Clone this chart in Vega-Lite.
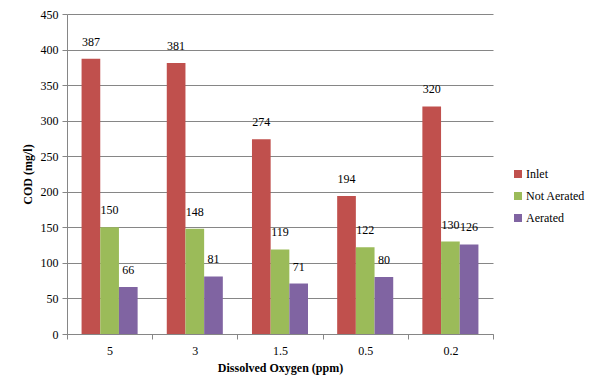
{
  "$schema": "https://vega.github.io/schema/vega-lite/v6.json",
  "autosize": "none",
  "width": 426,
  "height": 320,
  "padding": {"left": 67, "top": 14, "right": 109, "bottom": 58},
  "background": "white",
  "config": {
    "font": "Liberation Serif",
    "view": {"stroke": null},
    "text": {"font": "Liberation Serif", "fontSize": 12, "color": "#000000"},
    "legend": {"labelFont": "Liberation Serif", "titleFont": "Liberation Serif", "labelFontSize": 12, "labelColor": "#000000"},
    "axis": {"labelFont": "Liberation Serif", "titleFont": "Liberation Serif", "labelColor": "#000000", "titleColor": "#000000", "domainColor": "#868686", "tickColor": "#868686", "gridColor": "#868686", "labelFontSize": 12, "titleFontSize": 12}
  },
  "data": {
    "values": [
      {"do": "5", "series": "Inlet", "cod": 387},
      {"do": "5", "series": "Not Aerated", "cod": 150},
      {"do": "5", "series": "Aerated", "cod": 66},
      {"do": "3", "series": "Inlet", "cod": 381},
      {"do": "3", "series": "Not Aerated", "cod": 148},
      {"do": "3", "series": "Aerated", "cod": 81},
      {"do": "1.5", "series": "Inlet", "cod": 274},
      {"do": "1.5", "series": "Not Aerated", "cod": 119},
      {"do": "1.5", "series": "Aerated", "cod": 71},
      {"do": "0.5", "series": "Inlet", "cod": 194},
      {"do": "0.5", "series": "Not Aerated", "cod": 122},
      {"do": "0.5", "series": "Aerated", "cod": 80},
      {"do": "0.2", "series": "Inlet", "cod": 320},
      {"do": "0.2", "series": "Not Aerated", "cod": 130},
      {"do": "0.2", "series": "Aerated", "cod": 126}
    ]
  },
  "encoding": {
    "x": {
      "field": "do", "type": "nominal", "sort": null,
      "scale": {"paddingInner": 0, "paddingOuter": 0},
      "axis": {"title": "Dissolved Oxygen (ppm)", "titleFontWeight": "bold", "titlePadding": 6, "labelAngle": 0, "labelPadding": 6, "tickBand": "extent", "tickSize": 5, "grid": false}
    },
    "xOffset": {"field": "series", "type": "nominal", "sort": ["Inlet", "Not Aerated", "Aerated"], "scale": {"paddingOuter": 0.78, "paddingInner": 0}},
    "y": {
      "field": "cod", "type": "quantitative",
      "scale": {"domain": [0, 450]},
      "axis": {"title": "COD (mg/l)", "titleFontWeight": "bold", "titlePadding": 6, "values": [0, 50, 100, 150, 200, 250, 300, 350, 400, 450], "tickSize": 5, "labelPadding": 4, "grid": true}
    }
  },
  "layer": [
    {
      "mark": {"type": "bar"},
      "encoding": {
        "color": {
          "field": "series", "type": "nominal",
          "sort": ["Inlet", "Not Aerated", "Aerated"],
          "scale": {"domain": ["Inlet", "Not Aerated", "Aerated"], "range": ["#C0504D", "#9BBB59", "#8064A2"]},
          "legend": {"title": null, "orient": "none", "legendX": 445, "legendY": 154, "symbolType": "square", "symbolSize": 64, "symbolStrokeWidth": 0, "rowPadding": 10, "labelOffset": 2}
        }
      }
    },
    {
      "mark": {"type": "text", "baseline": "bottom", "dy": -10, "fontSize": 12, "fill": "#000000"},
      "encoding": {"text": {"field": "cod", "type": "quantitative"}}
    }
  ]
}
